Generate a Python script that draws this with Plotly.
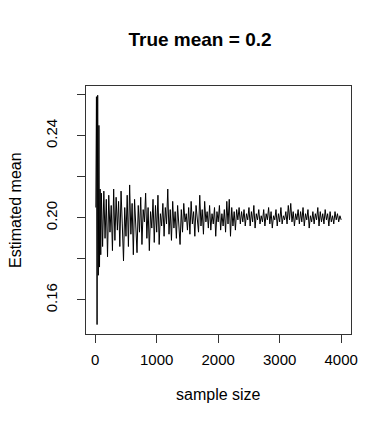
import plotly.graph_objects as go

sample_size = list(range(10, 101, 10)) + list(range(120, 4001, 20))

est_mean = [
    0.205, 0.259, 0.148, 0.2597, 0.172, 0.245, 0.176, 0.214, 0.182, 0.212,
    0.186, 0.213, 0.190, 0.209, 0.181, 0.211, 0.193, 0.206, 0.184, 0.214,
    0.189, 0.210, 0.194, 0.208, 0.186, 0.213, 0.197, 0.179, 0.205, 0.191,
    0.211, 0.186, 0.216, 0.192, 0.207, 0.182, 0.209, 0.196, 0.183, 0.206,
    0.193, 0.210, 0.187, 0.204, 0.198, 0.212, 0.190, 0.205, 0.184, 0.203,
    0.195, 0.209, 0.188, 0.206, 0.193, 0.211, 0.187, 0.202, 0.196, 0.207,
    0.191, 0.205, 0.197, 0.214, 0.192, 0.204, 0.189, 0.208, 0.195, 0.203,
    0.190, 0.206, 0.196, 0.187, 0.204, 0.193, 0.207, 0.198, 0.202, 0.194,
    0.205, 0.192, 0.208, 0.197, 0.203, 0.191, 0.206, 0.199, 0.193, 0.211,
    0.196, 0.204, 0.192, 0.208, 0.198, 0.203, 0.195, 0.206, 0.194, 0.202,
    0.197, 0.205, 0.191, 0.203, 0.198, 0.206, 0.194, 0.202, 0.196, 0.204,
    0.193, 0.208, 0.197, 0.209, 0.191, 0.205, 0.196, 0.203, 0.194, 0.204,
    0.199, 0.205, 0.197, 0.203, 0.198, 0.204, 0.196, 0.202, 0.199, 0.205,
    0.196, 0.203, 0.198, 0.206, 0.195, 0.202, 0.199, 0.204, 0.197, 0.201,
    0.198, 0.204, 0.196, 0.202, 0.199, 0.205, 0.197, 0.203, 0.195, 0.201,
    0.199, 0.204, 0.196, 0.202, 0.198, 0.205, 0.197, 0.201, 0.199, 0.203,
    0.197, 0.206, 0.199, 0.207, 0.198, 0.203, 0.196, 0.202, 0.199, 0.204,
    0.197, 0.203, 0.198, 0.205, 0.196, 0.202, 0.199, 0.204, 0.195, 0.201,
    0.198, 0.203, 0.197, 0.202, 0.199, 0.205, 0.196, 0.203, 0.198, 0.202,
    0.197, 0.204, 0.199, 0.202, 0.196, 0.203, 0.198, 0.201, 0.197, 0.203,
    0.199, 0.202, 0.198, 0.201, 0.199,
]

x_ticks = [0, 1000, 2000, 3000, 4000]
y_ticks = [0.16, 0.18, 0.20, 0.22, 0.24, 0.26]
y_tick_labels = ["0.16", "", "0.20", "", "0.24", ""]

FONT = "Liberation Sans, Arial, sans-serif"
L, R, T, B = 78, 41, 78, 98

fig = go.Figure()
fig.add_trace(go.Scatter(
    x=sample_size, y=est_mean, mode="lines",
    line=dict(color="black", width=1), showlegend=False, hoverinfo="skip",
))

fig.update_layout(
    width=384, height=424,
    margin=dict(l=L, r=R, t=T, b=B, autoexpand=False),
    paper_bgcolor="white", plot_bgcolor="white",
    font=dict(family=FONT, size=15, color="black"),
    title=dict(text="<b>True mean = 0.2</b>", x=0.5, xanchor="center",
               y=1 - 31 / 424, yanchor="middle", yref="container",
               font=dict(size=19, family=FONT, color="black")),
    xaxis=dict(range=[-150, 4160], tickvals=x_ticks, ticks="outside", ticklen=8,
               tickcolor="#333", showline=True, linecolor="#333", linewidth=1,
               mirror=True, showgrid=False, zeroline=False, automargin=False,
               ticklabelstandoff=4),
    yaxis=dict(range=[0.1434, 0.2642], tickvals=y_ticks, ticktext=y_tick_labels,
               ticks="outside", ticklen=8, tickcolor="#333", tickangle=-90,
               showline=True, linecolor="#333", linewidth=1, mirror=True,
               showgrid=False, zeroline=False, automargin=False,
               ticklabelstandoff=14),
    annotations=[
        dict(text="sample size", xref="paper", yref="paper", x=0.5, y=0,
             xanchor="center", yanchor="middle", yshift=-60,
             showarrow=False, font=dict(size=16, family=FONT, color="black")),
        dict(text="Estimated mean", xref="paper", yref="paper", x=0, y=0.5,
             xanchor="center", yanchor="middle", xshift=-(L - 7), textangle=-90,
             showarrow=False, font=dict(size=16, family=FONT, color="black")),
    ],
)

fig.write_html("out.html")
